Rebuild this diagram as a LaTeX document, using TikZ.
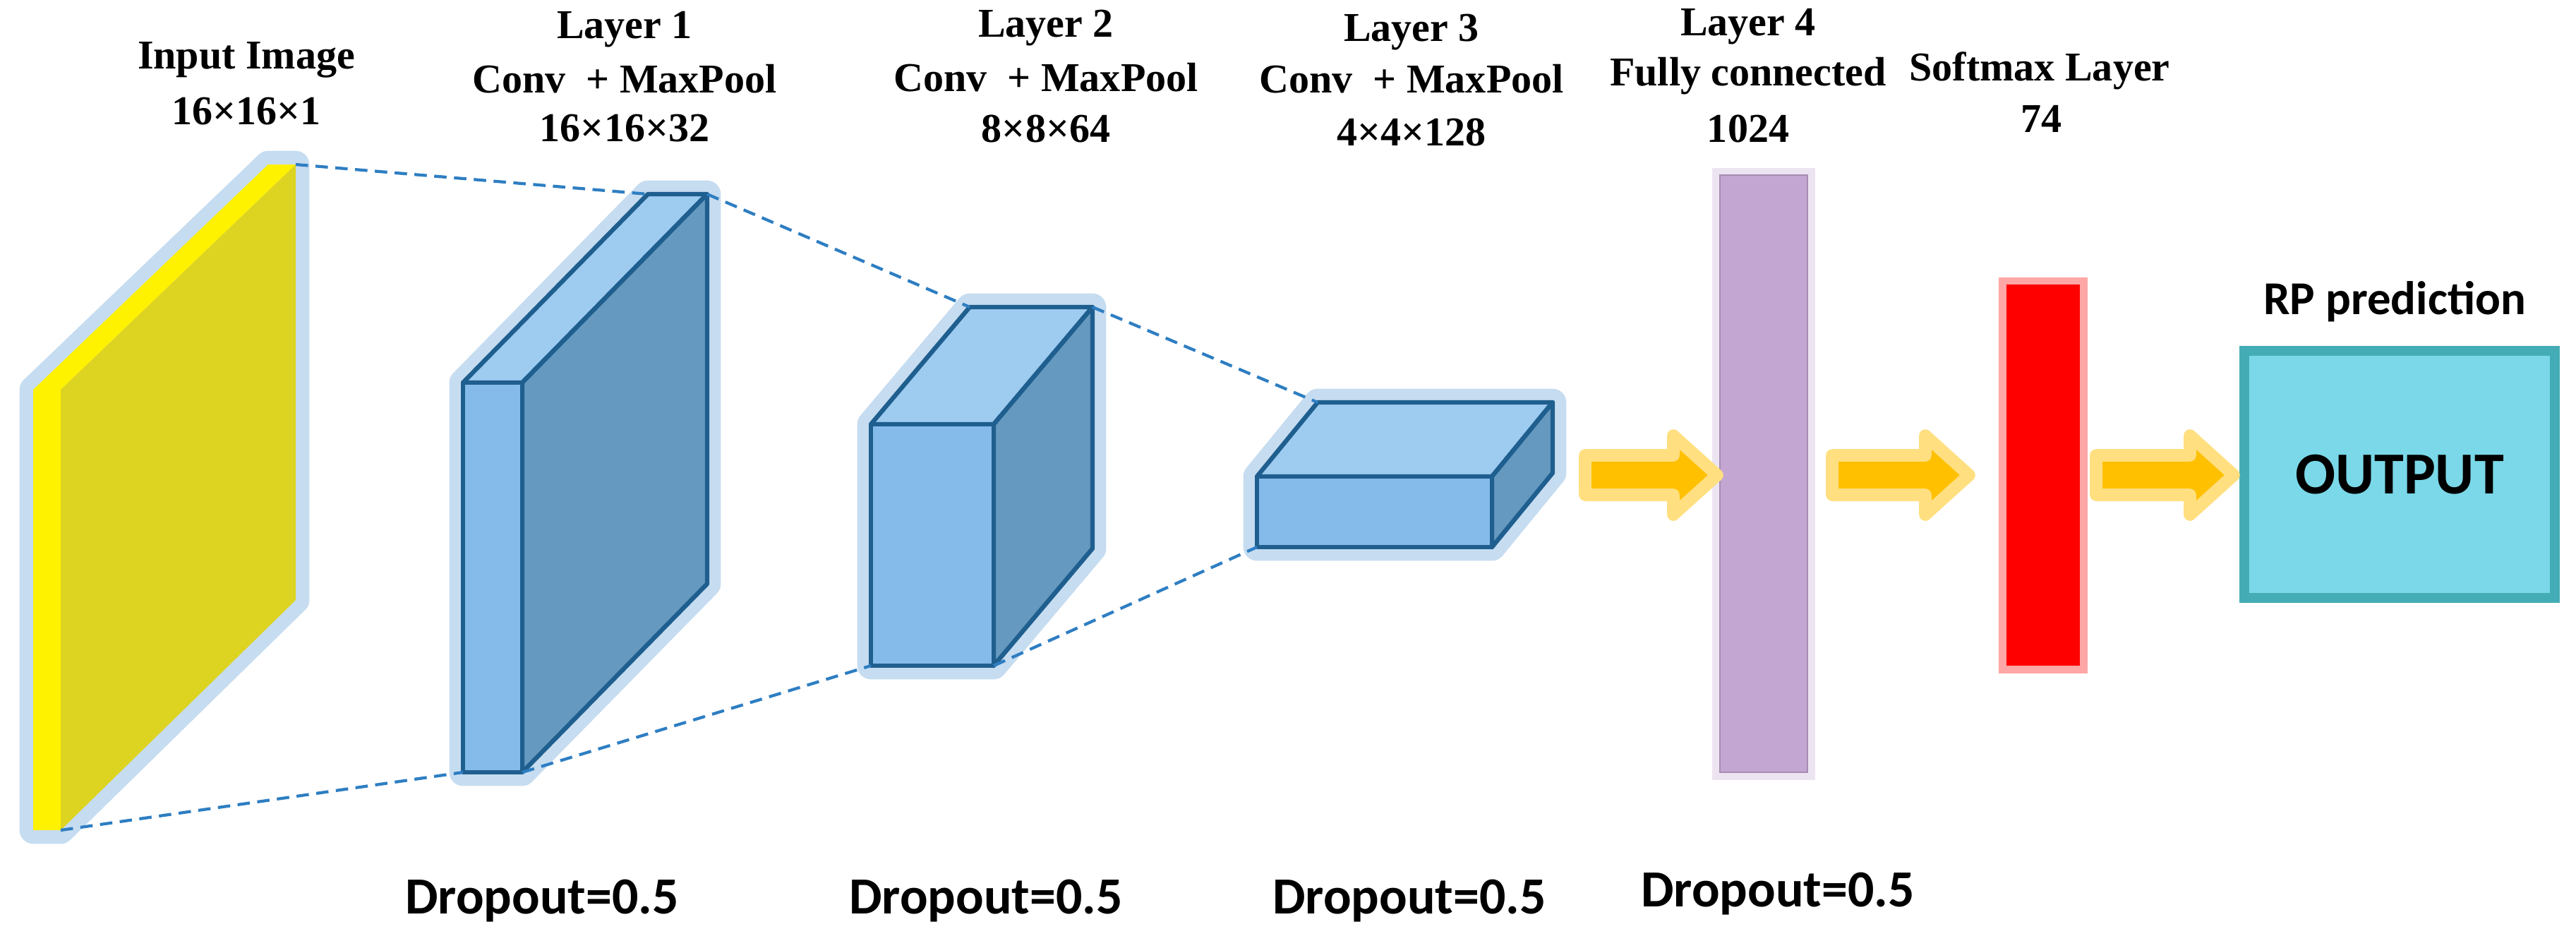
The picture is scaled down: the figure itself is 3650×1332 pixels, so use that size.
\documentclass[tikz,border=0pt]{standalone}
\usepackage{fontspec}
\setmainfont{Liberation Serif}
\newfontfamily\sansb{Carlito}[BoldFont=Carlito Bold]
\begin{document}
\begin{tikzpicture}[x=0.01cm,y=-0.01cm,
  lab/.style={font=\fontsize{16.5}{16.5}\selectfont\bfseries, inner sep=0pt},
  drop/.style={font=\sansb\fontsize{21}{21}\selectfont\bfseries, inner sep=0pt},
  edge/.style={draw=edgeblue, line width=1.8pt, line join=round},
  glowb/.style={draw=glowblue, line width=11pt, opacity=0.35, line join=round},
  dashc/.style={draw=dashblue, line width=1.2pt, dash pattern=on 5pt off 3pt},
  orange/.style={fill=arrowor, draw=arrowor!50, line width=5pt, line join=round}]
\definecolor{edgeblue}{HTML}{1F5F8F}
\definecolor{glowblue}{HTML}{5B9BD5}
\definecolor{dashblue}{HTML}{2E7EC2}
\definecolor{frontb}{HTML}{85BBEB}
\definecolor{topb}{HTML}{9ECBF0}
\definecolor{sideb}{HTML}{6699BF}
\definecolor{arrowor}{HTML}{FFC000}
\definecolor{purp}{HTML}{C3A6D1}
\definecolor{outc}{HTML}{7AD8E8}
\useasboundingbox (0,0) rectangle (3650,1332);
\newcommand\nncube[7]{%
  \coordinate (#7fbl) at (#1,#4); \coordinate (#7fbr) at (#2,#4);
  \coordinate (#7ftl) at (#1,#3); \coordinate (#7ftr) at (#2,#3);
  \coordinate (#7btl) at ({#1+#5},{#3+#6}); \coordinate (#7btr) at ({#2+#5},{#3+#6});
  \coordinate (#7bbr) at ({#2+#5},{#4+#6});
  \path[glowb] (#7ftl) -- (#7btl) -- (#7btr) -- (#7bbr) -- (#7fbr) -- (#7fbl) -- cycle;
  \path[edge, fill=topb] (#7ftl) -- (#7btl) -- (#7btr) -- (#7ftr) -- cycle;
  \path[edge, fill=sideb] (#7ftr) -- (#7btr) -- (#7bbr) -- (#7fbr) -- cycle;
  \path[edge, fill=frontb] (#7ftl) rectangle (#7fbr);
}
% ---- input image
\coordinate (yftl) at (47,552); \coordinate (yftr) at (86,552);
\coordinate (yfbl) at (47,1176); \coordinate (yfbr) at (86,1176);
\coordinate (ybtl) at (380,233); \coordinate (ybtr) at (419,233);
\coordinate (ybbr) at (419,850);
\path[glowb] (yftl) -- (ybtl) -- (ybtr) -- (ybbr) -- (yfbr) -- (yfbl) -- cycle;
\fill[yellow] (yftl) -- (ybtl) -- (ybtr) -- (yftr) -- cycle;
\fill[yellow] (yftl) rectangle (yfbr);
\fill[yellow!85!black] (yftr) -- (ybtr) -- (ybbr) -- (yfbr) -- cycle;
% ---- conv blocks
\nncube{656}{740}{542}{1094}{262}{-267}{a}
\nncube{1234}{1408}{601}{943}{140}{-166}{b}
\nncube{1781}{2114}{675}{775}{86}{-105}{c}
% ---- dashed projections
\draw[dashc] (ybtr) -- (abtl);
\draw[dashc] (yfbr) -- (afbl);
\draw[dashc] (abtr) -- (bbtl);
\draw[dashc] (afbr) -- (bfbl);
\draw[dashc] (bbtr) -- (cbtl);
\draw[dashc] (bfbr) -- (cfbl);
% ---- dense, softmax, output
\path[draw=purp!60, line width=6pt, opacity=0.5] (2437,249) rectangle (2561,1094);
\node[fill=purp, draw=purp!85!black, line width=0.6pt, inner sep=0pt,
  minimum width=1.24cm, minimum height=8.45cm] (fc) at (2499,671) {};
\path[draw=red!35, line width=6pt] (2843,404) rectangle (2947,943);
\node[fill=red, inner sep=0pt, minimum width=1.04cm, minimum height=5.39cm] (sm) at (2895,673) {};
\node[fill=outc, draw=outc!70!black!80!cyan, line width=4pt, inner sep=0pt, minimum width=4.4cm, minimum height=3.5cm,
  font=\sansb\fontsize{24}{24}\selectfont\bfseries] (out) at (3400,672) {OUTPUT};
% ---- orange arrows
\newcommand\nnarrow[3]{%
  \path[orange] (#1,{#3-28}) -- ({#2-62},{#3-28}) -- ({#2-62},{#3-56}) -- (#2,#3)
   -- ({#2-62},{#3+56}) -- ({#2-62},{#3+28}) -- (#1,{#3+28}) -- cycle;}
\nnarrow{2246}{2433}{673}
\nnarrow{2596}{2790}{673}
\nnarrow{2970}{3165}{673}
% ---- labels
\node[lab] (t0a) at (349,85) {Input Image};
\node[lab] (t0b) at (349,158) {16×16×1};
\node[lab] (t1a) at (885,42) {Layer 1};
\node[lab] (t1b) at (885,112) {Conv \ + MaxPool};
\node[lab] (t1c) at (885,182) {16×16×32};
\node[lab] (t2a) at (1482,40) {Layer 2};
\node[lab] (t2b) at (1482,110) {Conv \ + MaxPool};
\node[lab] (t2c) at (1482,182) {8×8×64};
\node[lab] (t3a) at (2000,46) {Layer 3};
\node[lab] (t3b) at (2000,112) {Conv \ + MaxPool};
\node[lab] (t3c) at (2000,187) {4×4×128};
\node[lab] (t4a) at (2477,38) {Layer 4};
\node[lab] (t4b) at (2477,108) {Fully connected};
\node[lab] (t4c) at (2477,182) {1024};
\node[lab] (t5a) at (2890,100) {Softmax Layer};
\node[lab] (t5b) at (2892,168) {74};
\node[drop, font=\sansb\fontsize{19}{19}\selectfont\bfseries] (rp) at (3393,427) {RP prediction};
\node[drop] (d1) at (768,1276) {Dropout=0.5};
\node[drop] (d2) at (1397,1276) {Dropout=0.5};
\node[drop] (d3) at (1997,1276) {Dropout=0.5};
\node[drop] (d4) at (2519,1266) {Dropout=0.5};
\end{tikzpicture}
\end{document}
